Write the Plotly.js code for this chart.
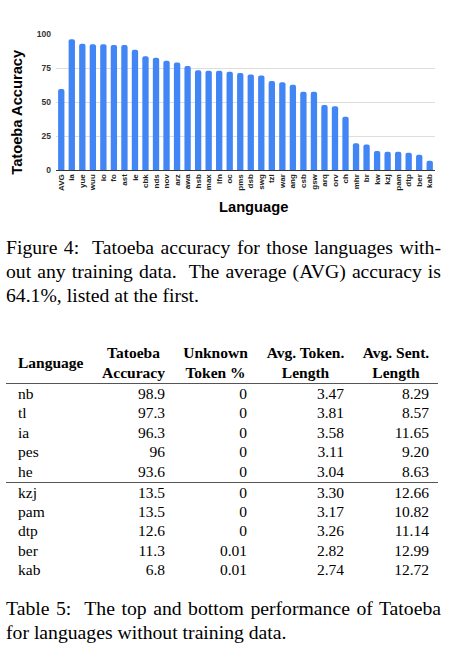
<!DOCTYPE html>
<html>
<head>
<meta charset="utf-8">
<script src="https://cdn.plot.ly/plotly-3.0.1.min.js"></script>
<style>
  html, body { margin: 0; padding: 0; background: #fff; }
  body { width: 470px; height: 659px; position: relative; overflow: hidden; }
  #chart { position: absolute; left: 0; top: 0; width: 470px; height: 215px; }
  .cap { position: absolute; left: 6px; width: 435px; font-family: "Liberation Serif", serif; font-size: 19.7px; line-height: 24px; color: #000; }
  .cap div { white-space: nowrap; }
  .cap .j { text-align: justify; text-align-last: justify; white-space: normal; }
  #tbl { position: absolute; left: 0; top: 0; width: 470px; font-family: "Liberation Serif", serif; font-size: 15.5px; color: #000; }
  #tbl div { position: absolute; white-space: nowrap; line-height: 19.5px; }
  #tbl .h { font-weight: bold; line-height: 20.3px; text-align: center; }
  #tbl .rule { height: 1px; background: #555; left: 6px; width: 432px; }
</style>
</head>
<body>
<div id="chart"></div>

<div class="cap" style="top:234.7px">
  <div class="j">Figure 4: &nbsp;Tatoeba accuracy for those languages with-</div>
  <div class="j">out any training data. &nbsp;The average (AVG) accuracy is</div>
  <div>64.1%, listed at the first.</div>
</div>

<div id="tbl"></div>

<div class="cap" style="top:596.3px">
  <div class="j">Table 5: &nbsp;The top and bottom performance of Tatoeba</div>
  <div>for languages without training data.</div>
</div>

<script>
// chart data
var languages = ['AVG','ia','yue','wuu','io','fo','ast','ie','cbk','nds','nov','arz','awa','hsb','max','lfn','oc','pms',
  'dsb','swg','tzl','war','ang','csb','gsw','arq','orv','ch','mhr','br','kw','kzj','pam','dtp','ber','kab'];
var accuracy = [59.6,96.1,92.9,92.4,92.4,91.9,91.9,88.4,83.7,82.5,80.3,79.1,76.4,73.4,72.9,72.9,72.2,71.3,
  70.2,69.5,65.5,64.5,62.6,57.6,57.6,47.8,46.8,39.2,19.7,18.7,14.0,13.5,13.5,12.6,11.3,6.8];
var yTicks = [0, 25, 50, 75, 100];

// table data
var tblHead = [['Tatoeba','Accuracy'], ['Unknown','Token %'], ['Avg. Token.','Length'], ['Avg. Sent.','Length']];
var tblLang = ['nb','tl','ia','pes','he','kzj','pam','dtp','ber','kab'];
var tblAcc = ['98.9','97.3','96.3','96','93.6','13.5','13.5','12.6','11.3','6.8'];
var tblUnk = ['0','0','0','0','0','0','0','0','0.01','0.01'];
var tblTok = ['3.47','3.81','3.58','3.11','3.04','3.30','3.17','3.26','2.82','2.74'];
var tblSent = ['8.29','8.57','11.65','9.20','8.63','12.66','10.82','11.14','12.99','12.72'];

var trace = {
  type: 'bar',
  x: languages,
  y: accuracy,
  marker: { color: '#4285F4', cornerradius: 2 },
  hovertemplate: '%{x}: %{y}<extra></extra>'
};

var layout = {
  width: 470,
  height: 215,
  margin: { l: 56, r: 35, t: 34, b: 45 },
  paper_bgcolor: '#fff',
  plot_bgcolor: '#fff',
  showlegend: false,
  bargap: 0.4,
  font: { family: 'Liberation Sans, Arial, sans-serif', color: '#222' },
  xaxis: {
    type: 'category',
    tickangle: -90,
    tickfont: { size: 8, family: 'Liberation Sans, Arial, sans-serif', weight: 'bold', color: '#222' },
    showline: true,
    linecolor: '#333',
    linewidth: 1,
    ticks: '',
    showgrid: false,
    fixedrange: true
  },
  yaxis: {
    range: [0, 100],
    tickvals: yTicks,
    tickfont: { size: 8.5, family: 'Liberation Sans, Arial, sans-serif', weight: 'bold', color: '#333' },
    gridcolor: '#dedede',
    gridwidth: 1,
    zeroline: false,
    showline: false,
    ticks: '',
    ticklabelstandoff: 4,
    fixedrange: true
  },
  annotations: [
    { text: '<b>Tatoeba Accuracy</b>', xref: 'paper', yref: 'paper', x: -0.105, y: 0.43,
      xanchor: 'center', yanchor: 'middle', textangle: -90, showarrow: false,
      font: { size: 14.7, color: '#000', family: 'Liberation Sans, Arial, sans-serif' } },
    { text: '<b>Language</b>', xref: 'paper', yref: 'paper', x: 0.522, y: -0.27,
      xanchor: 'center', yanchor: 'middle', showarrow: false,
      font: { size: 14.7, color: '#000', family: 'Liberation Sans, Arial, sans-serif' } }
  ]
};

Plotly.newPlot('chart', [trace], layout, { displayModeBar: false, responsive: false });

// build the table below the figure
var tbl = document.getElementById('tbl');
function put(cls, text, css) {
  var d = document.createElement('div');
  if (cls) d.className = cls;
  d.textContent = text;
  for (var k in css) d.style[k] = css[k];
  tbl.appendChild(d);
  return d;
}
var colRight = [165, 247, 344, 429];
var headCenter = [133.5, 215.5, 305.5, 396];
var headTop = 342.5;

put('h', 'Language', { left: '18px', top: (headTop + 10.2) + 'px', textAlign: 'left' });
tblHead.forEach(function (h, i) {
  put('h', h[0], { left: (headCenter[i] - 60) + 'px', width: '120px', top: headTop + 'px' });
  put('h', h[1], { left: (headCenter[i] - 60) + 'px', width: '120px', top: (headTop + 20.3) + 'px' });
});
put('rule', '', { top: '382.5px' });
put('rule', '', { top: '481.5px' });

var cols = [tblAcc, tblUnk, tblTok, tblSent];
tblLang.forEach(function (lang, r) {
  var top = r < 5 ? 383.5 + r * 19.6 : 482.5 + (r - 5) * 19.4;
  put('', lang, { left: '18px', top: top + 'px' });
  cols.forEach(function (col, c) {
    put('', col[r], { left: (colRight[c] - 100) + 'px', width: '100px', textAlign: 'right', top: top + 'px' });
  });
});
</script>
</body>
</html>
